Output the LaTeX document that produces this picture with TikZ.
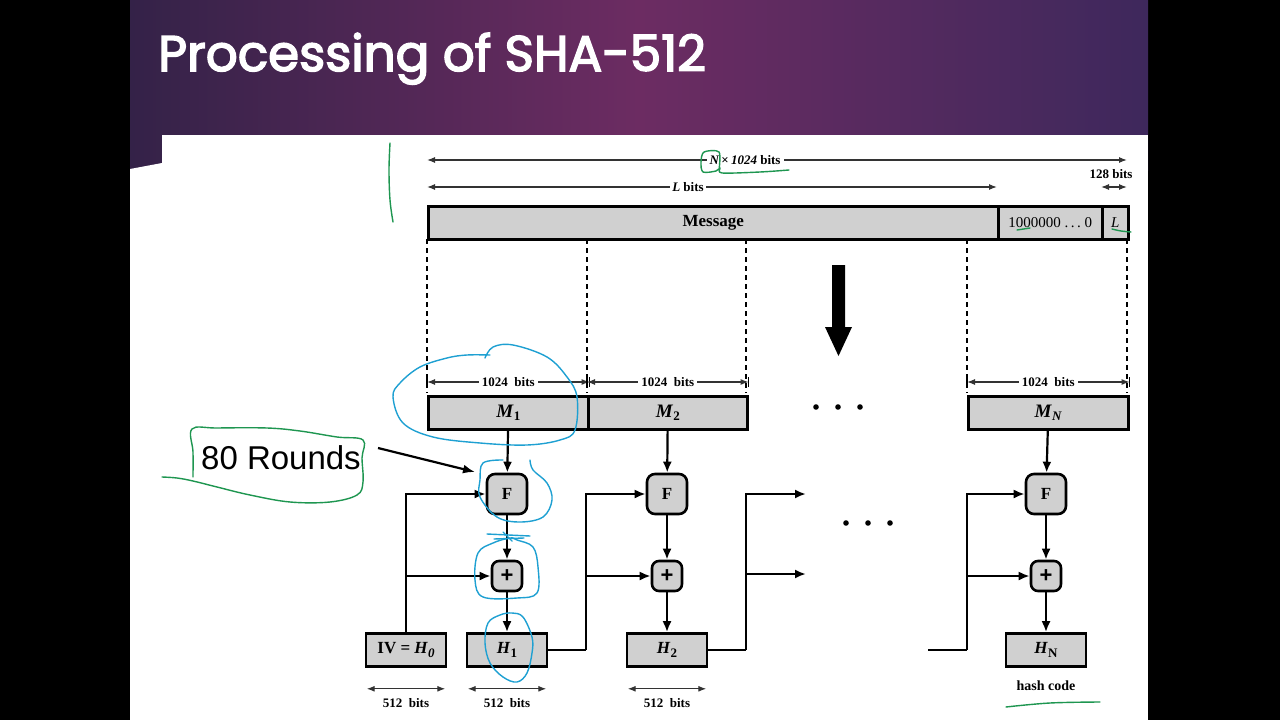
\documentclass[tikz,border=0pt]{standalone}
\usepackage{fontspec}
\setmainfont{Liberation Serif}
\newfontfamily\titlefont{Poppins}[FakeBold=3]
\newfontfamily\notefont{Liberation Sans}
\usetikzlibrary{arrows.meta}

\definecolor{boxgray}{RGB}{208,208,208}
\definecolor{titleL}{RGB}{52,34,72}
\definecolor{titleM}{RGB}{108,44,98}
\definecolor{titleR}{RGB}{62,40,92}
\definecolor{penblue}{RGB}{30,160,210}
\definecolor{pengreen}{RGB}{30,150,80}

\newcommand{\lowsub}[1]{\raisebox{-0.45ex}{\fontsize{13}{13}\selectfont#1}}

\begin{document}
\begin{tikzpicture}[
    x=1pt,
    y=-1pt,
    >={Latex[length=11pt,width=9pt]},
    every node/.style={font=\bfseries\fontsize{13}{15}\selectfont},
    block/.style={draw, line width=2.6pt, fill=boxgray, inner sep=0pt, minimum height=33pt},
    fbox/.style={block, rounded corners=8pt, minimum width=40pt, minimum height=40pt,
        font=\bfseries\fontsize{17}{17}\selectfont},
    addbox/.style={block, rounded corners=7pt, minimum width=30pt, minimum height=30pt,
        font=\notefont\bfseries\fontsize{22}{22}\selectfont},
    flow/.style={line width=2.2pt, ->},
    dimline/.style={line width=1.2pt, draw=black!80,
        {Latex[length=8pt,width=6pt]}-{Latex[length=8pt,width=6pt]}},
    cutline/.style={line width=1.6pt, dash pattern=on 5pt off 4pt},
    pen blue/.style={draw=penblue, line width=1.4pt, line cap=round, line join=round},
    pen green/.style={draw=pengreen, line width=1.4pt, line cap=round, line join=round}
]

\useasboundingbox (0,0) rectangle (1280,720);

%------------------------------------------------------------
% Slide background
%------------------------------------------------------------

\fill[black] (0,0) rectangle (1280,720);

\shade[left color=titleL, right color=titleR, middle color=titleM]
(130,0) rectangle (1148,170);

\fill[white] (162,135) rectangle (1148,720);
\fill[white] (130,169) -- (162,163) -- (162,720) -- (130,720) -- cycle;

\node[anchor=base west, text=white, inner sep=0pt,
    font=\titlefont\fontsize{50}{52}\selectfont]
(title) at (158,71)
{Processing of SHA-512};

%------------------------------------------------------------
% Padded message
%------------------------------------------------------------

\node[block, minimum width=570pt, anchor=north west,
    font=\bfseries\fontsize{17}{17}\selectfont]
(msg) at (427,205)
{Message};

\node[block, minimum width=104pt, anchor=north west,
    font=\fontsize{15}{15}\selectfont]
(pad) at (997,205)
{1000000\ .\,.\,.\ 0};

\node[block, minimum width=26pt, anchor=north west,
    font=\fontsize{15}{15}\selectfont]
(len) at (1101,205)
{\textit{L}};

% lengths above the message
\coordinate (topL) at (427,160);
\coordinate (topR) at (1127,160);
\coordinate (lenL) at (427,187);
\coordinate (lenR) at (997,187);
\coordinate (padL) at (1101,187);
\coordinate (padR) at (1127,187);

\draw[dimline] (topL) -- (topR);
\draw[dimline] (lenL) -- (lenR);
\draw[dimline] (padL) -- (padR);

\node[fill=white, inner xsep=3pt]
(nbits) at (745,160)
{\textit{N}\,×\,\textit{1024} bits};

\node[fill=white, inner xsep=2pt]
(lbits) at (688,187)
{\textit{L} bits};

\node
(tbits) at (1111,174)
{128 bits};

%------------------------------------------------------------
% Message blocks
%------------------------------------------------------------

\tikzset{mfont/.style={font=\bfseries\fontsize{19}{19}\selectfont}}

\node[block, mfont, minimum width=160pt, anchor=north west]
(m1) at (427,395)
{\textit{M}\lowsub{1}};

\node[block, mfont, minimum width=159pt, anchor=north west]
(m2) at (587,395)
{\textit{M}\lowsub{2}};

\node[block, mfont, minimum width=160pt, anchor=north west]
(mN) at (967,395)
{\textit{M}\lowsub{\textit{N}}};

% dashed guides from the message
\foreach \gx in {427,587,746,967,1127}
{
    \draw[cutline] (\gx,239) -- (\gx,393);
}

% 1024 bits spans
\foreach \m in {m1,m2,mN}
{
    \draw[dimline]
    ([yshift=13pt]\m.north west) -- ([yshift=13pt]\m.north east);
    \draw[line width=1.3pt]
    ([yshift=8pt]\m.north west) -- ([yshift=18pt]\m.north west);
    \draw[line width=1.3pt]
    ([yshift=8pt]\m.north east) -- ([yshift=18pt]\m.north east);
    \node[fill=white, inner xsep=3pt]
    (\m-bits) at ([yshift=13pt]\m.north)
    {1024~~bits};
}

% big arrow
\fill[black]
(832,265) -- (845,265) -- (845,327) -- (852,327) -- (838.5,356)
-- (825,327) -- (832,327) -- cycle;

% dots between blocks
\foreach \dx in {816,838,860}
{
    \fill (\dx,407) circle (2.8pt);
}

%------------------------------------------------------------
% Compression stages
%------------------------------------------------------------

\node[fbox] (f1) at (507,494) {F};
\node[fbox] (f2) at (667,494) {F};
\node[fbox] (fN) at (1046,494) {F};

\node[addbox] (add1) at (507,576) {+};
\node[addbox] (add2) at (667,576) {+};
\node[addbox] (addN) at (1046,576) {+};

\tikzset{hfont/.style={font=\bfseries\fontsize{17}{17}\selectfont}}

\node[block, hfont, minimum width=80pt] (iv) at (406,650) {IV = \textit{H}\lowsub{\textit{0}}};
\node[block, hfont, minimum width=80pt] (h1) at (507,650) {\textit{H}\lowsub{1}};
\node[block, hfont, minimum width=80pt] (h2) at (667,650) {\textit{H}\lowsub{2}};
\node[block, hfont, minimum width=80pt] (hN) at (1046,650) {\textit{H}\lowsub{N}};

% vertical flow
\draw[flow] (m1) -- (f1);
\draw[flow] (f1) -- (add1);
\draw[flow] (add1) -- (h1);

\draw[flow] (m2) -- (f2);
\draw[flow] (f2) -- (add2);
\draw[flow] (add2) -- (h2);

\draw[flow] (mN) -- (fN);
\draw[flow] (fN) -- (addN);
\draw[flow] (addN) -- (hN);

% chaining values
\draw[flow] (iv.north) |- (f1.west);
\draw[flow] (iv.north) |- (add1.west);

\coordinate (j1) at (586,650);
\draw[line width=2.2pt] (h1.east) -- (j1);
\draw[flow] (j1) |- (f2.west);
\draw[flow] (j1) |- (add2.west);

\coordinate (j2) at (746,650);
\coordinate (o1) at (806,494);
\coordinate (o2) at (806,574);
\draw[line width=2.2pt] (h2.east) -- (j2);
\draw[flow] (j2) |- (o1);
\draw[flow] (j2) |- (o2);

\coordinate (iN) at (928,650);
\coordinate (jN) at (967,650);
\draw[line width=2.2pt] (iN) -- (jN);
\draw[flow] (jN) |- (fN.west);
\draw[flow] (jN) |- (addN.west);

% dots between stages
\foreach \dx in {846,868,890}
{
    \fill (\dx,523) circle (2.8pt);
}

% 512 bits spans
\foreach \h in {iv,h1,h2}
{
    \draw[dimline]
    ([xshift=2pt,yshift=-21pt]\h.south west) -- ([xshift=-2pt,yshift=-21pt]\h.south east);
    \node (\h-bits) at ([yshift=-35pt]\h.south) {512~~bits};
}

\node[font=\bfseries\fontsize{14}{16}\selectfont]
(hash) at (1046,686)
{hash code};

%------------------------------------------------------------
% Pen notes
%------------------------------------------------------------

\node[font=\notefont\fontsize{33}{35}\selectfont, inner sep=0pt]
(rounds) at (281,458)
{80 Rounds};

\coordinate (rtip) at (475,472);
\draw[line width=2.2pt, -{Latex[length=12pt,width=9pt]}]
(378,448) -- (rtip);

\draw[pen green]
plot[smooth, tension=0.6] coordinates {
(162,477) (177,478) (193,481) (217,487) (250,495) (290,502) (330,502)
(357,495) (363,482) (362,458) (363,440) (337,437) (300,431) (267,428)
(217,428) (192,429) (193,452) (193,477)};

\draw[pen blue]
plot[smooth, tension=0.6] coordinates {
(485,358) (493,347) (513,345) (547,357) (567,377) (577,397) (575,430)
(560,440) (527,445) (480,443) (433,437) (403,423) (393,397) (400,383)
(420,367) (447,358) (467,355) (490,355)};

\draw[pen blue]
plot[smooth, tension=0.6] coordinates {
(503,460) (483,463) (480,480) (480,497) (497,517) (520,522) (543,517)
(552,500) (547,483) (533,470) (530,460)};

\draw[pen blue] (487,534) -- (530,536);
\draw[pen blue] (494,539) -- (524,538);
\draw[pen blue] (503,532) -- (512,541);

\draw[pen blue]
plot[smooth cycle, tension=0.6] coordinates {
(517,540) (533,547) (538,567) (537,593) (517,598) (483,597) (475,580)
(478,553) (493,543) (510,538)};

\draw[pen blue]
plot[smooth cycle, tension=0.6] coordinates {
(512,613) (523,617) (532,637) (532,653) (527,673) (517,682) (503,677)
(490,663) (485,643) (488,623) (500,615)};

\draw[pen green]
plot[smooth, tension=0.6] coordinates {(390,143) (389,170) (390,200) (393,222)};

\draw[pen green]
plot[smooth, tension=0.5] coordinates {
(719,170) (719,152) (704,152) (701,162) (703,172) (716,171) (720,168)
(722,173) (760,172) (789,170)};

\draw[pen green] (1017,230) -- (1030,228);
\draw[pen green]
plot[smooth, tension=0.6] coordinates {(1112,229) (1121,231) (1131,232)};

\draw[pen green]
plot[smooth, tension=0.6] coordinates {(1006,707) (1050,703) (1100,702)};

\end{tikzpicture}
\end{document}
